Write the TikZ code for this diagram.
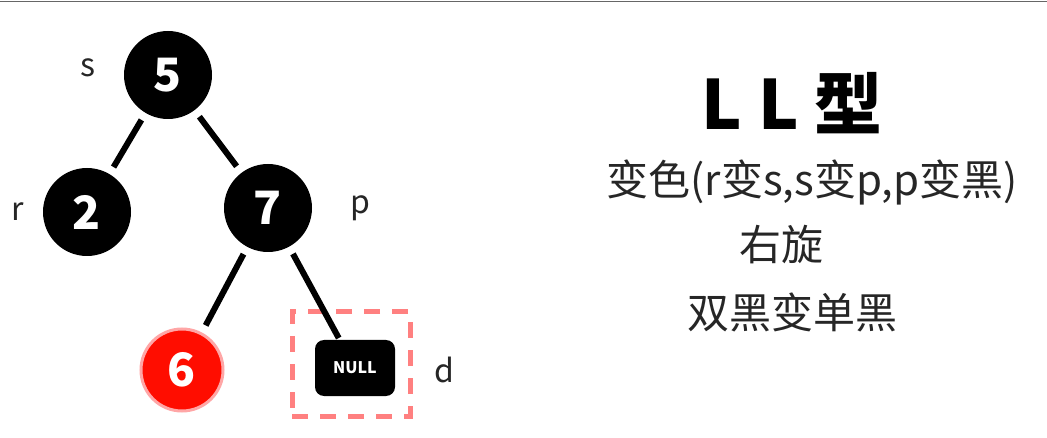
\documentclass[tikz,border=0pt]{standalone}
\usepackage{fontspec}
\setmainfont{Noto Sans CJK SC}
\begin{document}
\begin{tikzpicture}[x=1pt,y=-1pt,
  bn/.style={circle,fill=black,text=white,minimum size=88pt,inner sep=0pt,font=\fontsize{46}{48}\selectfont\bfseries},
  rn/.style={circle,fill=red!90!orange,draw=red!35,line width=3pt,text=white,minimum size=82pt,inner sep=0pt,font=\fontsize{46}{48}\selectfont\bfseries},
  lbl/.style={font=\fontsize{32}{34}\selectfont,text=black!85},
  edge/.style={line width=6pt,shorten >=8pt,shorten <=8pt},
  txt/.style={font=\fontsize{42}{46}\selectfont,text=black!85}]
\useasboundingbox (0,0) rectangle (1047,438);
\fill[white] (0,0) rectangle (1047,438);
\draw[black!60,line width=1.5pt] (0,1.5) -- (1047,1.5);
\node[bn] (n5) at (168,75) {5};
\node[bn] (n2) at (87,212) {2};
\node[bn] (n7) at (268,208) {7};
\node[rn] (n6) at (182,370) {6};
\node[fill=black,rounded corners=9pt,minimum width=80pt,minimum height=56pt,text=white,font=\fontsize{16}{18}\selectfont\bfseries] (nl) at (355,368) {NULL};
\node[draw=red!50,dashed,dash pattern=on 16pt off 12pt,line width=5pt,minimum width=118pt,minimum height=104pt] (db) at (351,364) {};
\draw[edge] (n5) -- (n2);
\draw[edge] (n5) -- (n7);
\draw[edge] (n7) -- (n6);
\draw[edge,shorten >=2pt] (n7) -- (nl);
\node[lbl] (ls) at (88,68) {s};
\node[lbl] (lr) at (18,212) {r};
\node[lbl] (lp) at (360,208) {p};
\node[lbl] (ld) at (444,370) {d};
\node[font=\fontsize{68}{72}\selectfont\bfseries] (t1) at (792,103) {L L 型};
\node[txt] (t2) at (812,182) {变色(r变s,s变p,p变黑)};
\node[txt] (t3) at (781,245) {右旋};
\node[txt] (t4) at (792,312) {双黑变单黑};
\end{tikzpicture}
\end{document}
